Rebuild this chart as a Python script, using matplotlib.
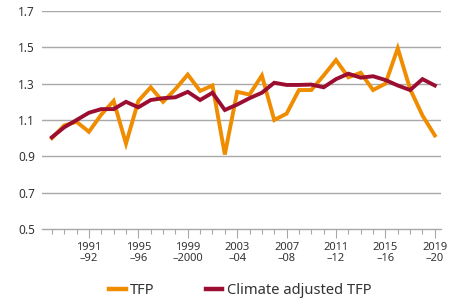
import matplotlib
matplotlib.use("Agg")
import numpy as np
import matplotlib.pyplot as plt

plt.rcParams['font.family'] = ['Noto Sans', 'DejaVu Sans']

# financial years 1988-89 .. 2019-20
years = [f"{y}\n–{str(y + 1)[-2:] if y + 1 != 2000 else '2000'}"
         for y in range(1988, 2020)]
tfp = [1.00, 1.07, 1.09, 1.035, 1.13, 1.205, 0.97, 1.205, 1.28, 1.20,
       1.27, 1.35, 1.26, 1.29, 0.91, 1.255, 1.24, 1.345, 1.10, 1.135,
       1.265, 1.265, 1.345, 1.43, 1.335, 1.36, 1.265, 1.30, 1.495, 1.27,
       1.125, 1.015]
climate_tfp = [1.005, 1.06, 1.10, 1.14, 1.16, 1.16, 1.20, 1.17, 1.21, 1.22,
               1.225, 1.255, 1.21, 1.25, 1.155, 1.185, 1.22, 1.25, 1.305,
               1.293, 1.293, 1.295, 1.28, 1.325, 1.355, 1.333, 1.341, 1.32,
               1.29, 1.265, 1.325, 1.29]
yticks = [0.5, 0.7, 0.9, 1.1, 1.3, 1.5, 1.7]

ORANGE = '#F08C00'
RED = '#9B0E32'
GRID = '#a8a8a8'
TEXT = '#333333'

x = np.arange(len(years))

fig = plt.figure(figsize=(4.74, 3.02), dpi=100)
ax = fig.add_axes([42 / 474, 1 - 229 / 302, 399 / 474, 218 / 302])

ax.plot(x, tfp, color=ORANGE, lw=2.8, solid_joinstyle='miter', label='TFP',
        zorder=3)
ax.plot(x, climate_tfp, color=RED, lw=2.8, solid_joinstyle='miter',
        label='Climate adjusted TFP', zorder=4)

ax.set_ylim(0.5, 1.7)
ax.set_xlim(-0.8, len(years) - 0.5)
ax.set_yticks(yticks)
ax.set_yticklabels([f"{v:.1f}" for v in yticks])
for v in yticks[1:]:
    ax.axhline(v, color=GRID, lw=1.0, zorder=1)

major = x[3::4]
ax.set_xticks(major)
ax.set_xticklabels([years[i] for i in major], linespacing=0.95)
ax.set_xticks(x, minor=True)
ax.tick_params(axis='x', which='major', length=6.5, width=0.8, color=GRID,
               pad=3, labelsize=8, labelcolor=TEXT)
ax.tick_params(axis='x', which='minor', length=3.5, width=0.8, color=GRID)
ax.tick_params(axis='y', length=0, pad=5, labelsize=8.5, labelcolor=TEXT)

for side in ['top', 'right', 'left']:
    ax.spines[side].set_visible(False)
ax.spines['bottom'].set_color(GRID)
ax.spines['bottom'].set_linewidth(1.0)

leg = fig.legend(loc='center', bbox_to_anchor=(0.507, 1 - 291 / 302),
                 ncol=2, frameon=False, fontsize=10.6, handlelength=1.1,
                 handletextpad=0.3, columnspacing=3.5)
for line in leg.get_lines():
    line.set_linewidth(3.2)
for t in leg.get_texts():
    t.set_color(TEXT)

fig.savefig('out.png', dpi=100)
